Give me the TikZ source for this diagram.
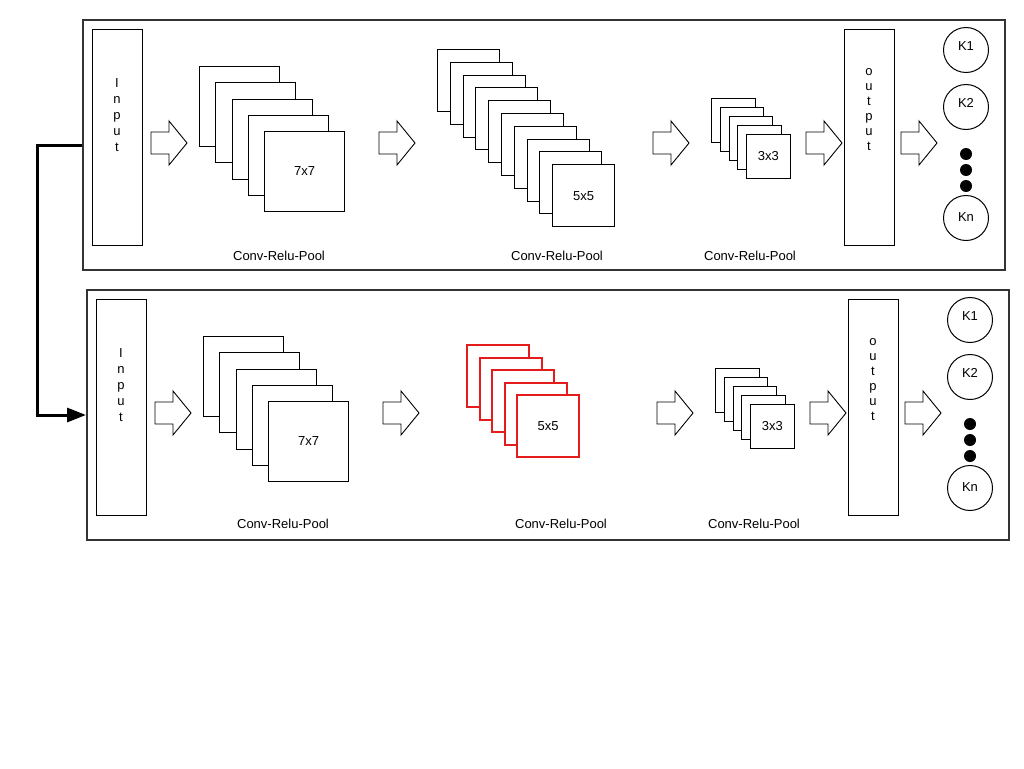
\documentclass[tikz,border=0pt]{standalone}
\usepackage{fontspec}
\setmainfont{Liberation Sans}
\usetikzlibrary{arrows.meta}
\definecolor{redline}{RGB}{228,28,28}
\begin{document}
\begin{tikzpicture}[x=1pt,y=-1pt,
  every node/.style={font=\fontsize{13}{15.5}\selectfont},
  panel/.style={draw=black!80, line width=2pt, anchor=north west, minimum width=922pt, minimum height=250pt, inner sep=0pt},
  iobox/.style={draw, line width=1pt, anchor=north west, minimum width=50pt, minimum height=216pt, inner sep=0pt},
  sq/.style={draw, fill=white, line width=1pt, anchor=north west, inner sep=0pt, minimum size=#1},
  redsq/.style={draw=redline, fill=white, line width=2pt, anchor=north west, inner sep=0pt, minimum size=#1},
  circ/.style={draw, circle, line width=1pt, minimum size=45pt, inner sep=0pt},
  dot/.style={circle, fill=black, minimum size=12pt, inner sep=0pt},
  vtext/.style={align=center, inner sep=0pt},
  intext/.style={vtext, font=\fontsize{13}{16}\selectfont},
  outtext/.style={vtext, font=\fontsize{13}{15}\selectfont},
  blockarrow/.pic={\draw[line width=0.9pt, fill=white] (0,-11) -- (18,-11) -- (18,-22) -- (36,0) -- (18,22) -- (18,11) -- (0,11) -- cycle;},
  conn/.style={line width=3pt, -{Triangle[length=19pt,width=14pt]}}
]
\fill[white] (0,0) rectangle (1024,768);
\useasboundingbox (0,0) rectangle (1024,768);

% ---------- top panel ----------
\node[panel] (tpanel) at (82,19) {};
\node[iobox] (tin) at (92,29) {};
\node[intext] (tintext) at (117,115) {I\\n\\p\\u\\t};
\pic at (151,143) {blockarrow};
\foreach \i in {0,...,4}
  \node[sq=80pt] (t7-\i) at ({199+16.25*\i},{66+16.25*\i}) {};
\node (t7txt) at (t7-4.center) {7x7};
\node (tl1) at (279,256) {Conv-Relu-Pool};
\pic at (379,143) {blockarrow};
\foreach \i in {0,...,9}
  \node[sq=62pt] (t5-\i) at ({437+12.8*\i},{49+12.8*\i}) {};
\node (t5txt) at (t5-9.center) {5x5};
\node (tl2) at (557,256) {Conv-Relu-Pool};
\pic at (653,143) {blockarrow};
\foreach \i in {0,...,4}
  \node[sq=43.5pt] (t3-\i) at ({711+8.75*\i},{98+9*\i}) {};
\node (t3txt) at (t3-4.center) {3x3};
\node (tl3) at (750,256) {Conv-Relu-Pool};
\pic at (806,143) {blockarrow};
\node[iobox] (tout) at (844,29) {};
\node[outtext] (touttext) at (869,110) {o\\u\\t\\p\\u\\t};
\pic at (901,143) {blockarrow};
\node[circ] (tk1) at (966,50) {};
\node (tk1t) at ([yshift=4pt]tk1.center) {K1};
\node[circ] (tk2) at (966,107) {};
\node (tk2t) at ([yshift=4pt]tk2.center) {K2};
\node[dot] (td1) at (966,154) {};
\node[dot] (td2) at (966,170) {};
\node[dot] (td3) at (966,186) {};
\node[circ] (tkn) at (966,218) {};
\node (tknt) at ([yshift=1pt]tkn.center) {Kn};

% ---------- bottom panel ----------
\begin{scope}[shift={(4,270)}]
\node[panel] (bpanel) at (82,19) {};
\node[iobox] (bin) at (92,29) {};
\node[intext] (bintext) at (117,115) {I\\n\\p\\u\\t};
\pic at (151,143) {blockarrow};
\foreach \i in {0,...,4}
  \node[sq=80pt] (b7-\i) at ({199+16.25*\i},{66+16.25*\i}) {};
\node (b7txt) at (b7-4.center) {7x7};
\node (bl1) at (279,254) {Conv-Relu-Pool};
\pic at (379,143) {blockarrow};
\foreach \i in {0,...,4}
  \node[redsq=62pt] (b5-\i) at ({462+12.5*\i},{74+12.5*\i}) {};
\node (b5txt) at (b5-4.center) {5x5};
\node (bl2) at (557,254) {Conv-Relu-Pool};
\pic at (653,143) {blockarrow};
\foreach \i in {0,...,4}
  \node[sq=43.5pt] (b3-\i) at ({711+8.75*\i},{98+9*\i}) {};
\node (b3txt) at (b3-4.center) {3x3};
\node (bl3) at (750,254) {Conv-Relu-Pool};
\pic at (806,143) {blockarrow};
\node[iobox] (bout) at (844,29) {};
\node[outtext] (bouttext) at (869,110) {o\\u\\t\\p\\u\\t};
\pic at (901,143) {blockarrow};
\node[circ] (bk1) at (966,50) {};
\node (bk1t) at ([yshift=4pt]bk1.center) {K1};
\node[circ] (bk2) at (966,107) {};
\node (bk2t) at ([yshift=4pt]bk2.center) {K2};
\node[dot] (bd1) at (966,154) {};
\node[dot] (bd2) at (966,170) {};
\node[dot] (bd3) at (966,186) {};
\node[circ] (bkn) at (966,218) {};
\node (bknt) at ([yshift=1pt]bkn.center) {Kn};
\end{scope}

% ---------- connector ----------
\draw[conn] (tpanel.west) -- ++(-45,0) |- (bpanel.west);
\end{tikzpicture}
\end{document}
